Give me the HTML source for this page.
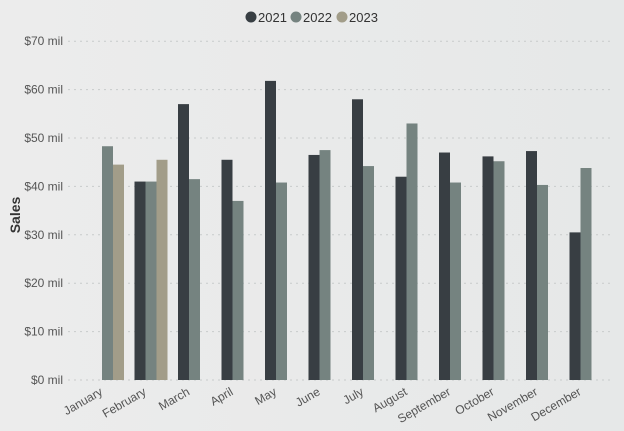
<!DOCTYPE html>
<html><head><meta charset="utf-8"><style>
body{margin:0;width:624px;height:431px;overflow:hidden;background:linear-gradient(90deg,#ececec,#e6e8e8);font-family:"Liberation Sans",sans-serif}
svg{display:block}
</style></head><body>
<svg width="624" height="431" id="c"></svg>
<script>
const categories=["January","February","March","April","May","June","July","August","September","October","November","December"];
const series2021=[null,41,57,45.5,61.8,46.5,58,42,47,46.2,47.3,30.5];
const series2022=[48.3,41,41.5,37,40.8,47.5,44.2,53,40.8,45.2,40.3,43.8];
const series2023=[44.5,45.5,null,null,null,null,null,null,null,null,null,null];
const yTicks=[0,10,20,30,40,50,60,70];
const seriesNames=["2021","2022","2023"];
const colors=["#383e43","#758380","#a29d89"];
const NS="http://www.w3.org/2000/svg";
const svg=document.getElementById('c');
const y0=380,yPer=48.4/10,x0=85.75,band=43.5,bw=11;
const y=v=>y0-v*yPer;
const x=i=>x0+i*band;
function mk(t,a){const e=document.createElementNS(NS,t);for(const k in a)e.setAttribute(k,a[k]);svg.appendChild(e);return e;}
yTicks.forEach(t=>{
 const g=mk('line',{x1:68,x2:614,y1:y(t),y2:y(t),stroke:'#c8cbcb','stroke-dasharray':'2,4'});
 
 
 const l=mk('text',{x:63,y:y(t)+4,'text-anchor':'end','font-size':12,fill:'#555'});
 l.textContent='$'+t+' mil';
 
 
});
const yt=mk('text',{transform:'translate(20,215) rotate(-90)','text-anchor':'middle','font-size':14,'font-weight':'bold',fill:'#333'});
yt.textContent='Sales';


[series2021,series2022,series2023].forEach((s,si)=>{
 s.forEach((v,i)=>{
  if(v==null)return;
  const r=mk('rect',{x:x(i)+5.25+si*bw,y:y(v),width:bw,height:y0-y(v),fill:colors[si]});
  
  
 });
});
categories.forEach((c,i)=>{
 const cx=x(i)+band/2-4;
 const t=mk('text',{transform:`translate(${cx},${y0+14}) rotate(-30)`,'text-anchor':'end','font-size':12,fill:'#555'});
 t.textContent=c;
 
 
});
const lx=[251,296,342];
seriesNames.forEach((n,i)=>{
 const c=mk('circle',{cx:lx[i],cy:17,r:5.5,fill:colors[i]});
 
 
 const t=mk('text',{x:lx[i]+7,y:22,'font-size':13,fill:'#333'});
 t.textContent=n;
 
 
});
</script>
</body></html>
